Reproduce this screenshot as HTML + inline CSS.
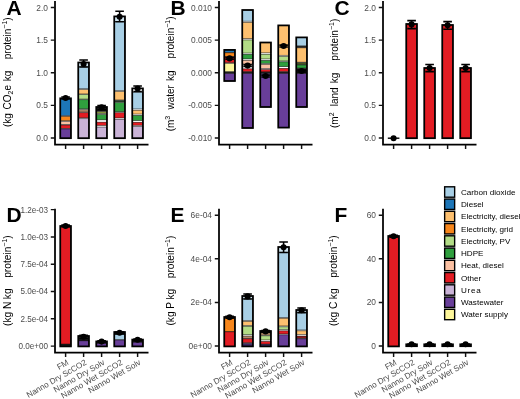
<!DOCTYPE html>
<html lang="en"><head><meta charset="utf-8"><title>Figure</title>
<style>html,body{margin:0;padding:0;background:#fff;overflow:hidden}svg{display:block}</style></head>
<body>
<svg width="520" height="399" viewBox="0 0 520 399" font-family="'Liberation Sans', Arial, Helvetica, sans-serif">
<rect width="520" height="399" fill="#fff"/>
<rect x="60.25" y="98.30" width="10.7" height="39.90" fill="#fff"/>
<rect x="60.25" y="98.30" width="10.7" height="17.25" fill="#1D76B8" stroke="#000" stroke-opacity="0.8" stroke-width="0.6"/>
<rect x="60.25" y="116.35" width="10.7" height="4.40" fill="#F7861B" stroke="#000" stroke-opacity="0.8" stroke-width="0.6"/>
<rect x="60.25" y="121.65" width="10.7" height="2.70" fill="#FBC0A2" stroke="#000" stroke-opacity="0.8" stroke-width="0.6"/>
<rect x="60.25" y="125.05" width="10.7" height="3.30" fill="#E31C23" stroke="#000" stroke-opacity="0.8" stroke-width="0.6"/>
<rect x="60.25" y="128.95" width="10.7" height="9.25" fill="#683E99" stroke="#000" stroke-opacity="0.8" stroke-width="0.6"/>
<rect x="60.25" y="98.30" width="10.7" height="39.90" fill="none" stroke="#000" stroke-width="1.75"/>
<path d="M61.30 97.0H69.90M61.30 99.0H69.90M65.60 97.0V99.0" stroke="#000" stroke-width="1.55" fill="none"/>
<circle cx="65.60" cy="98.0" r="3.05" fill="#000"/>
<rect x="78.25" y="62.50" width="10.7" height="75.70" fill="#fff"/>
<rect x="78.25" y="62.50" width="10.7" height="4.65" fill="#cfe5f0" stroke="#000" stroke-opacity="0.8" stroke-width="0.6"/>
<rect x="78.25" y="66.85" width="10.7" height="21.90" fill="#A8CFE5" stroke="#000" stroke-opacity="0.8" stroke-width="0.6"/>
<rect x="78.25" y="89.65" width="10.7" height="4.30" fill="#FDC06F" stroke="#000" stroke-opacity="0.8" stroke-width="0.6"/>
<rect x="78.25" y="94.65" width="10.7" height="4.40" fill="#B2DC86" stroke="#000" stroke-opacity="0.8" stroke-width="0.6"/>
<rect x="78.25" y="99.75" width="10.7" height="9.10" fill="#2F9F3E" stroke="#000" stroke-opacity="0.8" stroke-width="0.6"/>
<rect x="78.25" y="109.75" width="10.7" height="2.30" fill="#B08968" stroke="#000" stroke-opacity="0.8" stroke-width="0.6"/>
<rect x="78.25" y="112.75" width="10.7" height="5.10" fill="#E31C23" stroke="#000" stroke-opacity="0.8" stroke-width="0.6"/>
<rect x="78.25" y="118.75" width="10.7" height="19.45" fill="#CAB3D7" stroke="#000" stroke-opacity="0.8" stroke-width="0.6"/>
<rect x="78.25" y="62.50" width="10.7" height="75.70" fill="none" stroke="#000" stroke-width="1.75"/>
<path d="M79.30 60H87.90M79.30 67H87.90M83.60 60V67" stroke="#000" stroke-width="1.55" fill="none"/>
<circle cx="83.60" cy="64" r="3.05" fill="#000"/>
<rect x="96.25" y="107.00" width="10.7" height="31.20" fill="#fff"/>
<rect x="96.25" y="107.00" width="10.7" height="4.15" fill="#1a1a1a" stroke="#000" stroke-opacity="0.8" stroke-width="0.6"/>
<rect x="96.25" y="111.75" width="10.7" height="1.60" fill="#8A9A3A" stroke="#000" stroke-opacity="0.8" stroke-width="0.6"/>
<rect x="96.25" y="114.65" width="10.7" height="5.20" fill="#2F9F3E" stroke="#000" stroke-opacity="0.8" stroke-width="0.6"/>
<rect x="96.25" y="122.15" width="10.7" height="3.20" fill="#E31C23" stroke="#000" stroke-opacity="0.8" stroke-width="0.6"/>
<rect x="96.25" y="127.05" width="10.7" height="11.15" fill="#CAB3D7" stroke="#000" stroke-opacity="0.8" stroke-width="0.6"/>
<rect x="96.25" y="107.00" width="10.7" height="31.20" fill="none" stroke="#000" stroke-width="1.75"/>
<path d="M97.30 105.6H105.90M97.30 109.6H105.90M101.60 105.6V109.6" stroke="#000" stroke-width="1.55" fill="none"/>
<circle cx="101.60" cy="107.3" r="3.05" fill="#000"/>
<rect x="114.25" y="16.40" width="10.7" height="121.80" fill="#fff"/>
<rect x="114.25" y="16.40" width="10.7" height="5.55" fill="#cfe5f0" stroke="#000" stroke-opacity="0.8" stroke-width="0.6"/>
<rect x="114.25" y="21.65" width="10.7" height="68.70" fill="#A8CFE5" stroke="#000" stroke-opacity="0.8" stroke-width="0.6"/>
<rect x="114.25" y="91.65" width="10.7" height="8.30" fill="#FDC06F" stroke="#000" stroke-opacity="0.8" stroke-width="0.6"/>
<rect x="114.25" y="100.55" width="10.7" height="1.30" fill="#1c3d1a" stroke="#000" stroke-opacity="0.8" stroke-width="0.6"/>
<rect x="114.25" y="102.65" width="10.7" height="9.10" fill="#2F9F3E" stroke="#000" stroke-opacity="0.8" stroke-width="0.6"/>
<rect x="114.25" y="112.75" width="10.7" height="5.20" fill="#E31C23" stroke="#000" stroke-opacity="0.8" stroke-width="0.6"/>
<rect x="114.25" y="119.25" width="10.7" height="18.95" fill="#CAB3D7" stroke="#000" stroke-opacity="0.8" stroke-width="0.6"/>
<rect x="114.25" y="16.40" width="10.7" height="121.80" fill="none" stroke="#000" stroke-width="1.75"/>
<path d="M115.30 11.2H123.90M115.30 21.7H123.90M119.60 11.2V21.7" stroke="#000" stroke-width="1.55" fill="none"/>
<circle cx="119.60" cy="16.8" r="3.05" fill="#000"/>
<rect x="132.25" y="88.40" width="10.7" height="49.80" fill="#fff"/>
<rect x="132.25" y="92.25" width="10.7" height="16.70" fill="#A8CFE5" stroke="#000" stroke-opacity="0.8" stroke-width="0.6"/>
<rect x="132.25" y="110.25" width="10.7" height="3.80" fill="#FDC06F" stroke="#000" stroke-opacity="0.8" stroke-width="0.6"/>
<rect x="132.25" y="115.45" width="10.7" height="5.10" fill="#2F9F3E" stroke="#000" stroke-opacity="0.8" stroke-width="0.6"/>
<rect x="132.25" y="122.25" width="10.7" height="3.00" fill="#E31C23" stroke="#000" stroke-opacity="0.8" stroke-width="0.6"/>
<rect x="132.25" y="126.65" width="10.7" height="11.55" fill="#CAB3D7" stroke="#000" stroke-opacity="0.8" stroke-width="0.6"/>
<rect x="132.25" y="88.40" width="10.7" height="49.80" fill="none" stroke="#000" stroke-width="1.75"/>
<path d="M133.30 86H141.90M133.30 91.4H141.90M137.60 86V91.4" stroke="#000" stroke-width="1.55" fill="none"/>
<circle cx="137.60" cy="88.6" r="3.05" fill="#000"/>
<path d="M55 0.9V145.45000000000002M54.2 144.65H148.5" stroke="#000" stroke-width="1.75" fill="none"/>
<path d="M50.8 7.46H55M50.8 40.1H55M50.8 72.73H55M50.8 105.36H55M50.8 138.0H55M65.6 144.65V148.95000000000002M83.6 144.65V148.95000000000002M101.6 144.65V148.95000000000002M119.6 144.65V148.95000000000002M137.6 144.65V148.95000000000002" stroke="#111" stroke-width="1.45" fill="none"/>
<text x="48" y="10.53" font-size="8.4" fill="#4d4d4d" text-anchor="end">2.0</text>
<text x="48" y="43.17" font-size="8.4" fill="#4d4d4d" text-anchor="end">1.5</text>
<text x="48" y="75.80" font-size="8.4" fill="#4d4d4d" text-anchor="end">1.0</text>
<text x="48" y="108.43" font-size="8.4" fill="#4d4d4d" text-anchor="end">0.5</text>
<text x="48" y="141.07" font-size="8.4" fill="#4d4d4d" text-anchor="end">0.0</text>
<text transform="translate(11.0 72.2) rotate(-90)" font-size="10" word-spacing="1.0" fill="#000" text-anchor="middle" xml:space="preserve" style="white-space:pre">(kg CO<tspan font-size="7" dy="2.1">2</tspan><tspan dy="-2.1">e kg   protein</tspan><tspan font-size="7" dy="-4">−1</tspan><tspan dy="4">)</tspan></text>
<text transform="translate(6.5 14.5) scale(1.075 1)" font-size="19.5" font-weight="bold" fill="#000">A</text>
<rect x="224.25" y="49.90" width="10.7" height="31.10" fill="#fff"/>
<rect x="224.25" y="49.90" width="10.7" height="2.65" fill="#1D76B8" stroke="#000" stroke-opacity="0.8" stroke-width="0.6"/>
<rect x="224.25" y="52.85" width="10.7" height="3.70" fill="#F7861B" stroke="#000" stroke-opacity="0.8" stroke-width="0.6"/>
<rect x="224.25" y="56.85" width="10.7" height="5.90" fill="#E31C23" stroke="#000" stroke-opacity="0.8" stroke-width="0.6"/>
<rect x="224.25" y="63.45" width="10.7" height="8.30" fill="#FDF69A" stroke="#000" stroke-opacity="0.8" stroke-width="0.6"/>
<rect x="224.25" y="72.05" width="10.7" height="1.20" fill="#222" stroke="#000" stroke-opacity="0.8" stroke-width="0.6"/>
<rect x="224.25" y="73.55" width="10.7" height="7.45" fill="#683E99" stroke="#000" stroke-opacity="0.8" stroke-width="0.6"/>
<rect x="224.25" y="49.90" width="10.7" height="31.10" fill="none" stroke="#000" stroke-width="1.75"/>
<path d="M225.30 57.5H233.90M225.30 59.3H233.90M229.60 57.5V59.3" stroke="#000" stroke-width="1.55" fill="none"/>
<circle cx="229.60" cy="58.4" r="3.05" fill="#000"/>
<rect x="242.25" y="10.00" width="10.7" height="118.00" fill="#fff"/>
<rect x="242.25" y="10.00" width="10.7" height="11.15" fill="#A8CFE5" stroke="#000" stroke-opacity="0.8" stroke-width="0.6"/>
<rect x="242.25" y="22.45" width="10.7" height="16.20" fill="#FDC06F" stroke="#000" stroke-opacity="0.8" stroke-width="0.6"/>
<rect x="242.25" y="39.95" width="10.7" height="13.10" fill="#B2DC86" stroke="#000" stroke-opacity="0.8" stroke-width="0.6"/>
<rect x="242.25" y="54.35" width="10.7" height="4.60" fill="#2F9F3E" stroke="#000" stroke-opacity="0.8" stroke-width="0.6"/>
<rect x="242.25" y="60.35" width="10.7" height="3.60" fill="#FBC0A2" stroke="#000" stroke-opacity="0.8" stroke-width="0.6"/>
<rect x="242.25" y="68.85" width="10.7" height="2.80" fill="#E31C23" stroke="#000" stroke-opacity="0.8" stroke-width="0.6"/>
<rect x="242.25" y="72.05" width="10.7" height="1.20" fill="#222" stroke="#000" stroke-opacity="0.8" stroke-width="0.6"/>
<rect x="242.25" y="73.55" width="10.7" height="54.45" fill="#683E99" stroke="#000" stroke-opacity="0.8" stroke-width="0.6"/>
<rect x="242.25" y="10.00" width="10.7" height="118.00" fill="none" stroke="#000" stroke-width="1.75"/>
<path d="M243.30 64.7H251.90M243.30 66.5H251.90M247.60 64.7V66.5" stroke="#000" stroke-width="1.55" fill="none"/>
<circle cx="247.60" cy="65.6" r="3.05" fill="#000"/>
<rect x="260.25" y="42.50" width="10.7" height="64.50" fill="#fff"/>
<rect x="260.25" y="42.50" width="10.7" height="10.35" fill="#FDC06F" stroke="#000" stroke-opacity="0.8" stroke-width="0.6"/>
<rect x="260.25" y="54.25" width="10.7" height="4.70" fill="#B2DC86" stroke="#000" stroke-opacity="0.8" stroke-width="0.6"/>
<rect x="260.25" y="60.45" width="10.7" height="2.90" fill="#2F9F3E" stroke="#000" stroke-opacity="0.8" stroke-width="0.6"/>
<rect x="260.25" y="64.35" width="10.7" height="4.00" fill="#FBC0A2" stroke="#000" stroke-opacity="0.8" stroke-width="0.6"/>
<rect x="260.25" y="69.65" width="10.7" height="2.30" fill="#E31C23" stroke="#000" stroke-opacity="0.8" stroke-width="0.6"/>
<rect x="260.25" y="72.05" width="10.7" height="1.20" fill="#222" stroke="#000" stroke-opacity="0.8" stroke-width="0.6"/>
<rect x="260.25" y="73.55" width="10.7" height="33.45" fill="#683E99" stroke="#000" stroke-opacity="0.8" stroke-width="0.6"/>
<rect x="260.25" y="42.50" width="10.7" height="64.50" fill="none" stroke="#000" stroke-width="1.75"/>
<path d="M261.30 75.1H269.90M261.30 76.9H269.90M265.60 75.1V76.9" stroke="#000" stroke-width="1.55" fill="none"/>
<circle cx="265.60" cy="76.0" r="3.05" fill="#000"/>
<rect x="278.25" y="25.40" width="10.7" height="102.20" fill="#fff"/>
<rect x="278.25" y="25.40" width="10.7" height="29.85" fill="#FDC06F" stroke="#000" stroke-opacity="0.8" stroke-width="0.6"/>
<rect x="278.25" y="56.65" width="10.7" height="4.30" fill="#B2DC86" stroke="#000" stroke-opacity="0.8" stroke-width="0.6"/>
<rect x="278.25" y="61.85" width="10.7" height="4.80" fill="#2F9F3E" stroke="#000" stroke-opacity="0.8" stroke-width="0.6"/>
<rect x="278.25" y="68.35" width="10.7" height="3.20" fill="#E31C23" stroke="#000" stroke-opacity="0.8" stroke-width="0.6"/>
<rect x="278.25" y="72.05" width="10.7" height="1.20" fill="#222" stroke="#000" stroke-opacity="0.8" stroke-width="0.6"/>
<rect x="278.25" y="73.55" width="10.7" height="54.05" fill="#683E99" stroke="#000" stroke-opacity="0.8" stroke-width="0.6"/>
<rect x="278.25" y="25.40" width="10.7" height="102.20" fill="none" stroke="#000" stroke-width="1.75"/>
<path d="M279.30 45.1H287.90M279.30 46.9H287.90M283.60 45.1V46.9" stroke="#000" stroke-width="1.55" fill="none"/>
<circle cx="283.60" cy="46.0" r="3.05" fill="#000"/>
<rect x="296.25" y="37.40" width="10.7" height="69.60" fill="#fff"/>
<rect x="296.25" y="37.40" width="10.7" height="8.55" fill="#A8CFE5" stroke="#000" stroke-opacity="0.8" stroke-width="0.6"/>
<rect x="296.25" y="46.15" width="10.7" height="1.40" fill="#222" stroke="#000" stroke-opacity="0.8" stroke-width="0.6"/>
<rect x="296.25" y="47.85" width="10.7" height="14.30" fill="#FDC06F" stroke="#000" stroke-opacity="0.8" stroke-width="0.6"/>
<rect x="296.25" y="62.75" width="10.7" height="1.80" fill="#4a5a20" stroke="#000" stroke-opacity="0.8" stroke-width="0.6"/>
<rect x="296.25" y="64.95" width="10.7" height="3.10" fill="#2F9F3E" stroke="#000" stroke-opacity="0.8" stroke-width="0.6"/>
<rect x="296.25" y="68.45" width="10.7" height="4.90" fill="#1a1a1a" stroke="#000" stroke-opacity="0.8" stroke-width="0.6"/>
<rect x="296.25" y="73.55" width="10.7" height="33.45" fill="#683E99" stroke="#000" stroke-opacity="0.8" stroke-width="0.6"/>
<rect x="296.25" y="37.40" width="10.7" height="69.60" fill="none" stroke="#000" stroke-width="1.75"/>
<path d="M297.30 70.1H305.90M297.30 71.9H305.90M301.60 70.1V71.9" stroke="#000" stroke-width="1.55" fill="none"/>
<circle cx="301.60" cy="71.0" r="3.05" fill="#000"/>
<path d="M219 0.9V145.45000000000002M218.2 144.65H312.5" stroke="#000" stroke-width="1.75" fill="none"/>
<path d="M214.8 7.46H219M214.8 40.1H219M214.8 72.73H219M214.8 105.36H219M214.8 138.0H219M229.6 144.65V148.95000000000002M247.6 144.65V148.95000000000002M265.6 144.65V148.95000000000002M283.6 144.65V148.95000000000002M301.6 144.65V148.95000000000002" stroke="#111" stroke-width="1.45" fill="none"/>
<text x="212" y="10.53" font-size="8.4" fill="#4d4d4d" text-anchor="end">0.010</text>
<text x="212" y="43.17" font-size="8.4" fill="#4d4d4d" text-anchor="end">0.005</text>
<text x="212" y="75.80" font-size="8.4" fill="#4d4d4d" text-anchor="end">0.000</text>
<text x="212" y="108.43" font-size="8.4" fill="#4d4d4d" text-anchor="end">-0.005</text>
<text x="212" y="141.07" font-size="8.4" fill="#4d4d4d" text-anchor="end">-0.010</text>
<text transform="translate(173.7 73.9) rotate(-90)" font-size="10" word-spacing="1.25" fill="#000" text-anchor="middle" xml:space="preserve" style="white-space:pre">(m<tspan font-size="7" dy="-4">3</tspan><tspan dy="4" dx="2.2"> water kg   protein</tspan><tspan font-size="7" dy="-4">−1</tspan><tspan dy="4">)</tspan></text>
<text transform="translate(170.5 14.5) scale(1.075 1)" font-size="19.5" font-weight="bold" fill="#000">B</text>
<path d="M387.80 138.2H399.40" stroke="#000" stroke-width="1.4"/>
<circle cx="393.60" cy="138.2" r="3.05" fill="#000"/>
<rect x="406.25" y="24.00" width="10.7" height="114.20" fill="#fff"/>
<rect x="406.25" y="24.00" width="10.7" height="114.20" fill="#E31C23" stroke="#000" stroke-opacity="0.8" stroke-width="0.6"/>
<rect x="406.25" y="24.00" width="10.7" height="114.20" fill="none" stroke="#000" stroke-width="1.75"/>
<path d="M407.30 20.6H415.90M407.30 28.6H415.90M411.60 20.6V28.6" stroke="#000" stroke-width="1.55" fill="none"/>
<circle cx="411.60" cy="24.4" r="3.05" fill="#000"/>
<rect x="424.25" y="68.00" width="10.7" height="70.20" fill="#fff"/>
<rect x="424.25" y="68.00" width="10.7" height="70.20" fill="#E31C23" stroke="#000" stroke-opacity="0.8" stroke-width="0.6"/>
<rect x="424.25" y="68.00" width="10.7" height="70.20" fill="none" stroke="#000" stroke-width="1.75"/>
<path d="M425.30 64.4H433.90M425.30 71.6H433.90M429.60 64.4V71.6" stroke="#000" stroke-width="1.55" fill="none"/>
<circle cx="429.60" cy="68" r="3.05" fill="#000"/>
<rect x="442.25" y="25.00" width="10.7" height="113.20" fill="#fff"/>
<rect x="442.25" y="25.00" width="10.7" height="113.20" fill="#E31C23" stroke="#000" stroke-opacity="0.8" stroke-width="0.6"/>
<rect x="442.25" y="25.00" width="10.7" height="113.20" fill="none" stroke="#000" stroke-width="1.75"/>
<path d="M443.30 21.6H451.90M443.30 29.2H451.90M447.60 21.6V29.2" stroke="#000" stroke-width="1.55" fill="none"/>
<circle cx="447.60" cy="25.2" r="3.05" fill="#000"/>
<rect x="460.25" y="68.00" width="10.7" height="70.20" fill="#fff"/>
<rect x="460.25" y="68.00" width="10.7" height="70.20" fill="#E31C23" stroke="#000" stroke-opacity="0.8" stroke-width="0.6"/>
<rect x="460.25" y="68.00" width="10.7" height="70.20" fill="none" stroke="#000" stroke-width="1.75"/>
<path d="M461.30 64.4H469.90M461.30 71.6H469.90M465.60 64.4V71.6" stroke="#000" stroke-width="1.55" fill="none"/>
<circle cx="465.60" cy="68" r="3.05" fill="#000"/>
<path d="M383 0.9V145.45000000000002M382.2 144.65H476.5" stroke="#000" stroke-width="1.75" fill="none"/>
<path d="M378.8 7.46H383M378.8 40.1H383M378.8 72.73H383M378.8 105.36H383M378.8 138.0H383M393.6 144.65V148.95000000000002M411.6 144.65V148.95000000000002M429.6 144.65V148.95000000000002M447.6 144.65V148.95000000000002M465.6 144.65V148.95000000000002" stroke="#111" stroke-width="1.45" fill="none"/>
<text x="376" y="10.53" font-size="8.4" fill="#4d4d4d" text-anchor="end">2.0</text>
<text x="376" y="43.17" font-size="8.4" fill="#4d4d4d" text-anchor="end">1.5</text>
<text x="376" y="75.80" font-size="8.4" fill="#4d4d4d" text-anchor="end">1.0</text>
<text x="376" y="108.43" font-size="8.4" fill="#4d4d4d" text-anchor="end">0.5</text>
<text x="376" y="141.07" font-size="8.4" fill="#4d4d4d" text-anchor="end">0.0</text>
<text transform="translate(338.0 73.4) rotate(-90)" font-size="10" word-spacing="1.25" fill="#000" text-anchor="middle" xml:space="preserve" style="white-space:pre">(m<tspan font-size="7" dy="-4">2</tspan><tspan dy="4" dx="2.2"> land kg   protein</tspan><tspan font-size="7" dy="-4">−1</tspan><tspan dy="4">)</tspan></text>
<text transform="translate(334.5 14.5) scale(1.075 1)" font-size="19.5" font-weight="bold" fill="#000">C</text>
<rect x="60.25" y="226.00" width="10.7" height="120.40" fill="#fff"/>
<rect x="60.25" y="226.00" width="10.7" height="118.35" fill="#E31C23" stroke="#000" stroke-opacity="0.8" stroke-width="0.6"/>
<rect x="60.25" y="344.05" width="10.7" height="2.35" fill="#1a1a1a" stroke="#000" stroke-opacity="0.8" stroke-width="0.6"/>
<rect x="60.25" y="226.00" width="10.7" height="120.40" fill="none" stroke="#000" stroke-width="1.75"/>
<path d="M61.30 225.1H69.90M61.30 226.9H69.90M65.60 225.1V226.9" stroke="#000" stroke-width="1.55" fill="none"/>
<circle cx="65.60" cy="226.0" r="3.05" fill="#000"/>
<rect x="78.25" y="336.00" width="10.7" height="10.40" fill="#fff"/>
<rect x="78.25" y="336.00" width="10.7" height="5.15" fill="#1a1a1a" stroke="#000" stroke-opacity="0.8" stroke-width="0.6"/>
<rect x="78.25" y="340.85" width="10.7" height="5.55" fill="#683E99" stroke="#000" stroke-opacity="0.8" stroke-width="0.6"/>
<rect x="78.25" y="336.00" width="10.7" height="10.40" fill="none" stroke="#000" stroke-width="1.75"/>
<path d="M79.30 335.2H87.90M79.30 338.4H87.90M83.60 335.2V338.4" stroke="#000" stroke-width="1.55" fill="none"/>
<circle cx="83.60" cy="336.8" r="3.05" fill="#000"/>
<rect x="96.25" y="341.40" width="10.7" height="5.00" fill="#fff"/>
<rect x="96.25" y="341.40" width="10.7" height="2.15" fill="#1a1a1a" stroke="#000" stroke-opacity="0.8" stroke-width="0.6"/>
<rect x="96.25" y="343.25" width="10.7" height="3.15" fill="#683E99" stroke="#000" stroke-opacity="0.8" stroke-width="0.6"/>
<rect x="96.25" y="341.40" width="10.7" height="5.00" fill="none" stroke="#000" stroke-width="1.75"/>
<path d="M97.30 340.7H105.90M97.30 342.5H105.90M101.60 340.7V342.5" stroke="#000" stroke-width="1.55" fill="none"/>
<circle cx="101.60" cy="341.6" r="3.05" fill="#000"/>
<rect x="114.25" y="332.00" width="10.7" height="14.40" fill="#fff"/>
<rect x="114.25" y="332.00" width="10.7" height="2.75" fill="#1a1a1a" stroke="#000" stroke-opacity="0.8" stroke-width="0.6"/>
<rect x="114.25" y="334.65" width="10.7" height="4.90" fill="#A8CFE5" stroke="#000" stroke-opacity="0.8" stroke-width="0.6"/>
<rect x="114.25" y="340.05" width="10.7" height="6.35" fill="#683E99" stroke="#000" stroke-opacity="0.8" stroke-width="0.6"/>
<rect x="114.25" y="332.00" width="10.7" height="14.40" fill="none" stroke="#000" stroke-width="1.75"/>
<path d="M115.30 331.9H123.90M115.30 333.7H123.90M119.60 331.9V333.7" stroke="#000" stroke-width="1.55" fill="none"/>
<circle cx="119.60" cy="332.8" r="3.05" fill="#000"/>
<rect x="132.25" y="339.60" width="10.7" height="6.80" fill="#fff"/>
<rect x="132.25" y="339.60" width="10.7" height="2.75" fill="#1a1a1a" stroke="#000" stroke-opacity="0.8" stroke-width="0.6"/>
<rect x="132.25" y="342.25" width="10.7" height="4.15" fill="#683E99" stroke="#000" stroke-opacity="0.8" stroke-width="0.6"/>
<rect x="132.25" y="339.60" width="10.7" height="6.80" fill="none" stroke="#000" stroke-width="1.75"/>
<path d="M133.30 338.9H141.90M133.30 340.7H141.90M137.60 338.9V340.7" stroke="#000" stroke-width="1.55" fill="none"/>
<circle cx="137.60" cy="339.8" r="3.05" fill="#000"/>
<path d="M55 208.8V353.45M54.2 352.65H148.5" stroke="#000" stroke-width="1.75" fill="none"/>
<path d="M50.8 209.6H55M50.8 236.9H55M50.8 264.2H55M50.8 291.5H55M50.8 318.8H55M50.8 346.1H55M65.6 352.65V356.95M83.6 352.65V356.95M101.6 352.65V356.95M119.6 352.65V356.95M137.6 352.65V356.95" stroke="#111" stroke-width="1.45" fill="none"/>
<text x="48" y="212.57" font-size="8.15" fill="#4d4d4d" text-anchor="end">1.2e-03</text>
<text x="48" y="239.87" font-size="8.15" fill="#4d4d4d" text-anchor="end">1.0e-03</text>
<text x="48" y="267.17" font-size="8.15" fill="#4d4d4d" text-anchor="end">7.5e-04</text>
<text x="48" y="294.47" font-size="8.15" fill="#4d4d4d" text-anchor="end">5.0e-04</text>
<text x="48" y="321.77" font-size="8.15" fill="#4d4d4d" text-anchor="end">2.5e-04</text>
<text x="48" y="349.07" font-size="8.15" fill="#4d4d4d" text-anchor="end">0.0e+00</text>
<text transform="translate(11.0 280.6) rotate(-90)" font-size="10.2" word-spacing="-0.2" fill="#000" text-anchor="middle" xml:space="preserve" style="white-space:pre">(kg N kg    protein<tspan font-size="7" dy="-4">−1</tspan><tspan dy="4">)</tspan></text>
<text transform="translate(6.5 222.2) scale(1.075 1)" font-size="19.5" font-weight="bold" fill="#000">D</text>
<text transform="translate(66.1 358.6) rotate(-30)" font-size="8.2" fill="#4d4d4d" text-anchor="end" dy="6.3">FM</text>
<text transform="translate(84.1 358.6) rotate(-30)" font-size="8.2" fill="#4d4d4d" text-anchor="end" dy="6.3">Nanno Dry ScCO2</text>
<text transform="translate(102.1 358.6) rotate(-30)" font-size="8.2" fill="#4d4d4d" text-anchor="end" dy="6.3">Nanno Dry Solv</text>
<text transform="translate(120.1 358.6) rotate(-30)" font-size="8.2" fill="#4d4d4d" text-anchor="end" dy="6.3">Nanno Wet ScCO2</text>
<text transform="translate(138.1 358.6) rotate(-30)" font-size="8.2" fill="#4d4d4d" text-anchor="end" dy="6.3">Nanno Wet Solv</text>
<rect x="224.25" y="317.00" width="10.7" height="29.40" fill="#fff"/>
<rect x="224.25" y="317.00" width="10.7" height="14.75" fill="#F7861B" stroke="#000" stroke-opacity="0.8" stroke-width="0.6"/>
<rect x="224.25" y="331.85" width="10.7" height="14.55" fill="#E31C23" stroke="#000" stroke-opacity="0.8" stroke-width="0.6"/>
<rect x="224.25" y="317.00" width="10.7" height="29.40" fill="none" stroke="#000" stroke-width="1.75"/>
<path d="M225.30 316.3H233.90M225.30 318.1H233.90M229.60 316.3V318.1" stroke="#000" stroke-width="1.55" fill="none"/>
<circle cx="229.60" cy="317.2" r="3.05" fill="#000"/>
<rect x="242.25" y="296.00" width="10.7" height="50.40" fill="#fff"/>
<rect x="242.25" y="296.00" width="10.7" height="3.15" fill="#cfe5f0" stroke="#000" stroke-opacity="0.8" stroke-width="0.6"/>
<rect x="242.25" y="298.85" width="10.7" height="21.50" fill="#A8CFE5" stroke="#000" stroke-opacity="0.8" stroke-width="0.6"/>
<rect x="242.25" y="321.45" width="10.7" height="3.90" fill="#FDC06F" stroke="#000" stroke-opacity="0.8" stroke-width="0.6"/>
<rect x="242.25" y="326.25" width="10.7" height="8.50" fill="#B2DC86" stroke="#000" stroke-opacity="0.8" stroke-width="0.6"/>
<rect x="242.25" y="336.05" width="10.7" height="2.30" fill="#B08968" stroke="#000" stroke-opacity="0.8" stroke-width="0.6"/>
<rect x="242.25" y="338.85" width="10.7" height="3.90" fill="#E31C23" stroke="#000" stroke-opacity="0.8" stroke-width="0.6"/>
<rect x="242.25" y="343.45" width="10.7" height="2.95" fill="#3F2A66" stroke="#000" stroke-opacity="0.8" stroke-width="0.6"/>
<rect x="242.25" y="296.00" width="10.7" height="50.40" fill="none" stroke="#000" stroke-width="1.75"/>
<path d="M243.30 294H251.90M243.30 299H251.90M247.60 294V299" stroke="#000" stroke-width="1.55" fill="none"/>
<circle cx="247.60" cy="296.4" r="3.05" fill="#000"/>
<rect x="260.25" y="331.00" width="10.7" height="15.40" fill="#fff"/>
<rect x="260.25" y="331.00" width="10.7" height="2.15" fill="#1a1a1a" stroke="#000" stroke-opacity="0.8" stroke-width="0.6"/>
<rect x="260.25" y="332.85" width="10.7" height="2.30" fill="#B08968" stroke="#000" stroke-opacity="0.8" stroke-width="0.6"/>
<rect x="260.25" y="335.85" width="10.7" height="4.10" fill="#B2DC86" stroke="#000" stroke-opacity="0.8" stroke-width="0.6"/>
<rect x="260.25" y="341.45" width="10.7" height="2.70" fill="#E31C23" stroke="#000" stroke-opacity="0.8" stroke-width="0.6"/>
<rect x="260.25" y="344.25" width="10.7" height="2.15" fill="#3F2A66" stroke="#000" stroke-opacity="0.8" stroke-width="0.6"/>
<rect x="260.25" y="331.00" width="10.7" height="15.40" fill="none" stroke="#000" stroke-width="1.75"/>
<path d="M261.30 330.5H269.90M261.30 332.3H269.90M265.60 330.5V332.3" stroke="#000" stroke-width="1.55" fill="none"/>
<circle cx="265.60" cy="331.4" r="3.05" fill="#000"/>
<rect x="278.25" y="247.00" width="10.7" height="99.40" fill="#fff"/>
<rect x="278.25" y="247.00" width="10.7" height="5.55" fill="#cfe5f0" stroke="#000" stroke-opacity="0.8" stroke-width="0.6"/>
<rect x="278.25" y="252.25" width="10.7" height="65.30" fill="#A8CFE5" stroke="#000" stroke-opacity="0.8" stroke-width="0.6"/>
<rect x="278.25" y="318.25" width="10.7" height="7.70" fill="#FDC06F" stroke="#000" stroke-opacity="0.8" stroke-width="0.6"/>
<rect x="278.25" y="326.85" width="10.7" height="2.50" fill="#B2DC86" stroke="#000" stroke-opacity="0.8" stroke-width="0.6"/>
<rect x="278.25" y="330.85" width="10.7" height="3.10" fill="#E31C23" stroke="#000" stroke-opacity="0.8" stroke-width="0.6"/>
<rect x="278.25" y="334.85" width="10.7" height="11.55" fill="#683E99" stroke="#000" stroke-opacity="0.8" stroke-width="0.6"/>
<rect x="278.25" y="247.00" width="10.7" height="99.40" fill="none" stroke="#000" stroke-width="1.75"/>
<path d="M279.30 242H287.90M279.30 252.4H287.90M283.60 242V252.4" stroke="#000" stroke-width="1.55" fill="none"/>
<circle cx="283.60" cy="247.2" r="3.05" fill="#000"/>
<rect x="296.25" y="310.00" width="10.7" height="36.40" fill="#fff"/>
<rect x="296.25" y="310.00" width="10.7" height="2.75" fill="#cfe5f0" stroke="#000" stroke-opacity="0.8" stroke-width="0.6"/>
<rect x="296.25" y="312.45" width="10.7" height="17.50" fill="#A8CFE5" stroke="#000" stroke-opacity="0.8" stroke-width="0.6"/>
<rect x="296.25" y="330.85" width="10.7" height="3.50" fill="#FDC06F" stroke="#000" stroke-opacity="0.8" stroke-width="0.6"/>
<rect x="296.25" y="336.05" width="10.7" height="2.30" fill="#8B1A1A" stroke="#000" stroke-opacity="0.8" stroke-width="0.6"/>
<rect x="296.25" y="338.85" width="10.7" height="7.55" fill="#683E99" stroke="#000" stroke-opacity="0.8" stroke-width="0.6"/>
<rect x="296.25" y="310.00" width="10.7" height="36.40" fill="none" stroke="#000" stroke-width="1.75"/>
<path d="M297.30 308H305.90M297.30 312.6H305.90M301.60 308V312.6" stroke="#000" stroke-width="1.55" fill="none"/>
<circle cx="301.60" cy="310.2" r="3.05" fill="#000"/>
<path d="M219 208.8V353.45M218.2 352.65H312.5" stroke="#000" stroke-width="1.75" fill="none"/>
<path d="M214.8 215.2H219M214.8 258.8H219M214.8 302.4H219M214.8 346.0H219M229.6 352.65V356.95M247.6 352.65V356.95M265.6 352.65V356.95M283.6 352.65V356.95M301.6 352.65V356.95" stroke="#111" stroke-width="1.45" fill="none"/>
<text x="212" y="218.27" font-size="8.4" fill="#4d4d4d" text-anchor="end">6e-04</text>
<text x="212" y="261.87" font-size="8.4" fill="#4d4d4d" text-anchor="end">4e-04</text>
<text x="212" y="305.47" font-size="8.4" fill="#4d4d4d" text-anchor="end">2e-04</text>
<text x="212" y="349.07" font-size="8.4" fill="#4d4d4d" text-anchor="end">0e+00</text>
<text transform="translate(174.2 280.6) rotate(-90)" font-size="10.2" word-spacing="-0.2" fill="#000" text-anchor="middle" xml:space="preserve" style="white-space:pre">(kg P kg    protein<tspan font-size="7" dy="-4">−1</tspan><tspan dy="4">)</tspan></text>
<text transform="translate(170.5 222.2) scale(1.075 1)" font-size="19.5" font-weight="bold" fill="#000">E</text>
<text transform="translate(230.1 358.6) rotate(-30)" font-size="8.2" fill="#4d4d4d" text-anchor="end" dy="6.3">FM</text>
<text transform="translate(248.1 358.6) rotate(-30)" font-size="8.2" fill="#4d4d4d" text-anchor="end" dy="6.3">Nanno Dry ScCO2</text>
<text transform="translate(266.1 358.6) rotate(-30)" font-size="8.2" fill="#4d4d4d" text-anchor="end" dy="6.3">Nanno Dry Solv</text>
<text transform="translate(284.1 358.6) rotate(-30)" font-size="8.2" fill="#4d4d4d" text-anchor="end" dy="6.3">Nanno Wet ScCO2</text>
<text transform="translate(302.1 358.6) rotate(-30)" font-size="8.2" fill="#4d4d4d" text-anchor="end" dy="6.3">Nanno Wet Solv</text>
<rect x="388.25" y="236.00" width="10.7" height="110.40" fill="#fff"/>
<rect x="388.25" y="236.00" width="10.7" height="110.40" fill="#E31C23" stroke="#000" stroke-opacity="0.8" stroke-width="0.6"/>
<rect x="388.25" y="236.00" width="10.7" height="110.40" fill="none" stroke="#000" stroke-width="1.75"/>
<path d="M389.30 235.3H397.90M389.30 237.1H397.90M393.60 235.3V237.1" stroke="#000" stroke-width="1.55" fill="none"/>
<circle cx="393.60" cy="236.2" r="3.05" fill="#000"/>
<rect x="406.25" y="344.30" width="10.7" height="1.90" fill="#fff"/>
<rect x="406.25" y="344.30" width="10.7" height="1.90" fill="#1a1a1a" stroke="#000" stroke-opacity="0.8" stroke-width="0.6"/>
<rect x="406.25" y="344.30" width="10.7" height="1.90" fill="none" stroke="#000" stroke-width="1.75"/>
<path d="M407.30 343.9H415.90M407.30 344.9H415.90M411.60 343.9V344.9" stroke="#000" stroke-width="1.55" fill="none"/>
<circle cx="411.60" cy="344.3" r="3.05" fill="#000"/>
<rect x="424.25" y="344.30" width="10.7" height="1.90" fill="#fff"/>
<rect x="424.25" y="344.30" width="10.7" height="1.90" fill="#1a1a1a" stroke="#000" stroke-opacity="0.8" stroke-width="0.6"/>
<rect x="424.25" y="344.30" width="10.7" height="1.90" fill="none" stroke="#000" stroke-width="1.75"/>
<path d="M425.30 343.9H433.90M425.30 344.9H433.90M429.60 343.9V344.9" stroke="#000" stroke-width="1.55" fill="none"/>
<circle cx="429.60" cy="344.3" r="3.05" fill="#000"/>
<rect x="442.25" y="344.30" width="10.7" height="1.90" fill="#fff"/>
<rect x="442.25" y="344.30" width="10.7" height="1.90" fill="#1a1a1a" stroke="#000" stroke-opacity="0.8" stroke-width="0.6"/>
<rect x="442.25" y="344.30" width="10.7" height="1.90" fill="none" stroke="#000" stroke-width="1.75"/>
<path d="M443.30 343.9H451.90M443.30 344.9H451.90M447.60 343.9V344.9" stroke="#000" stroke-width="1.55" fill="none"/>
<circle cx="447.60" cy="344.3" r="3.05" fill="#000"/>
<rect x="460.25" y="344.30" width="10.7" height="1.90" fill="#fff"/>
<rect x="460.25" y="344.30" width="10.7" height="1.90" fill="#1a1a1a" stroke="#000" stroke-opacity="0.8" stroke-width="0.6"/>
<rect x="460.25" y="344.30" width="10.7" height="1.90" fill="none" stroke="#000" stroke-width="1.75"/>
<path d="M461.30 343.9H469.90M461.30 344.9H469.90M465.60 343.9V344.9" stroke="#000" stroke-width="1.55" fill="none"/>
<circle cx="465.60" cy="344.3" r="3.05" fill="#000"/>
<path d="M383 208.8V353.45M382.2 352.65H476.5" stroke="#000" stroke-width="1.75" fill="none"/>
<path d="M378.8 215.2H383M378.8 258.8H383M378.8 302.4H383M378.8 346.0H383M393.6 352.65V356.95M411.6 352.65V356.95M429.6 352.65V356.95M447.6 352.65V356.95M465.6 352.65V356.95" stroke="#111" stroke-width="1.45" fill="none"/>
<text x="376" y="218.27" font-size="8.4" fill="#4d4d4d" text-anchor="end">60</text>
<text x="376" y="261.87" font-size="8.4" fill="#4d4d4d" text-anchor="end">40</text>
<text x="376" y="305.47" font-size="8.4" fill="#4d4d4d" text-anchor="end">20</text>
<text x="376" y="349.07" font-size="8.4" fill="#4d4d4d" text-anchor="end">0</text>
<text transform="translate(337.2 280.6) rotate(-90)" font-size="10.2" word-spacing="-0.2" fill="#000" text-anchor="middle" xml:space="preserve" style="white-space:pre">(kg C kg    protein<tspan font-size="7" dy="-4">−1</tspan><tspan dy="4">)</tspan></text>
<text transform="translate(334.5 222.2) scale(1.075 1)" font-size="19.5" font-weight="bold" fill="#000">F</text>
<text transform="translate(394.1 358.6) rotate(-30)" font-size="8.2" fill="#4d4d4d" text-anchor="end" dy="6.3">FM</text>
<text transform="translate(412.1 358.6) rotate(-30)" font-size="8.2" fill="#4d4d4d" text-anchor="end" dy="6.3">Nanno Dry ScCO2</text>
<text transform="translate(430.1 358.6) rotate(-30)" font-size="8.2" fill="#4d4d4d" text-anchor="end" dy="6.3">Nanno Dry Solv</text>
<text transform="translate(448.1 358.6) rotate(-30)" font-size="8.2" fill="#4d4d4d" text-anchor="end" dy="6.3">Nanno Wet ScCO2</text>
<text transform="translate(466.1 358.6) rotate(-30)" font-size="8.2" fill="#4d4d4d" text-anchor="end" dy="6.3">Nanno Wet Solv</text>
<rect x="444.65" y="186.80" width="10.0" height="10.4" fill="#A8CFE5" stroke="#000" stroke-width="1.4"/>
<text x="461" y="194.95" font-size="8.1" fill="#000">Carbon dioxide</text>
<rect x="444.65" y="199.05" width="10.0" height="10.4" fill="#1D76B8" stroke="#000" stroke-width="1.4"/>
<text x="461" y="207.20" font-size="8.1" fill="#000">Diesel</text>
<rect x="444.65" y="211.30" width="10.0" height="10.4" fill="#FDC06F" stroke="#000" stroke-width="1.4"/>
<text x="461" y="219.45" font-size="8.1" fill="#000">Electricity, diesel</text>
<rect x="444.65" y="223.55" width="10.0" height="10.4" fill="#F7861B" stroke="#000" stroke-width="1.4"/>
<text x="461" y="231.70" font-size="8.1" fill="#000">Electricity, grid</text>
<rect x="444.65" y="235.80" width="10.0" height="10.4" fill="#B2DC86" stroke="#000" stroke-width="1.4"/>
<text x="461" y="243.95" font-size="8.1" fill="#000">Electricity, PV</text>
<rect x="444.65" y="248.05" width="10.0" height="10.4" fill="#2F9F3E" stroke="#000" stroke-width="1.4"/>
<text x="461" y="256.20" font-size="8.1" fill="#000">HDPE</text>
<rect x="444.65" y="260.30" width="10.0" height="10.4" fill="#FBC0A2" stroke="#000" stroke-width="1.4"/>
<text x="461" y="268.45" font-size="8.1" fill="#000">Heat, diesel</text>
<rect x="444.65" y="272.55" width="10.0" height="10.4" fill="#E31C23" stroke="#000" stroke-width="1.4"/>
<text x="461" y="280.70" font-size="8.1" fill="#000">Other</text>
<rect x="444.65" y="284.80" width="10.0" height="10.4" fill="#CAB3D7" stroke="#000" stroke-width="1.4"/>
<text x="461" y="292.95" font-size="8.1" fill="#000" letter-spacing="0.7">Urea</text>
<rect x="444.65" y="297.05" width="10.0" height="10.4" fill="#683E99" stroke="#000" stroke-width="1.4"/>
<text x="461" y="305.20" font-size="8.1" fill="#000">Wastewater</text>
<rect x="444.65" y="309.30" width="10.0" height="10.4" fill="#FDF69A" stroke="#000" stroke-width="1.4"/>
<text x="461" y="317.45" font-size="8.1" fill="#000">Water supply</text>
</svg>
</body></html>
